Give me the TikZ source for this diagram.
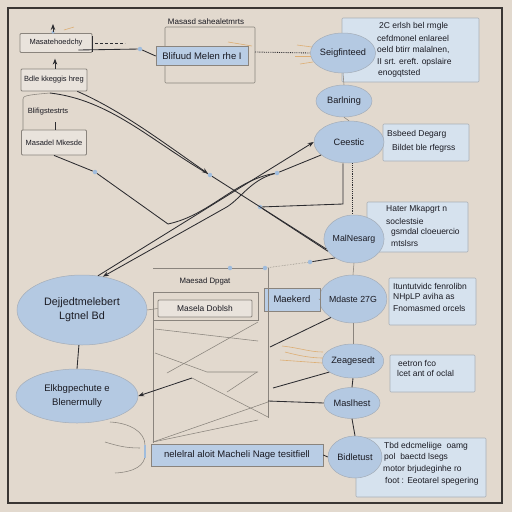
\documentclass[tikz,border=0pt]{standalone}
\usepackage{fontspec}
\setmainfont{Liberation Sans}
\usetikzlibrary{arrows.meta,shapes.geometric}
\definecolor{bg}{HTML}{E2D9CE}
\definecolor{ell}{HTML}{B4C9E2}
\definecolor{ellb}{HTML}{A4ADB8}
\definecolor{tfill}{HTML}{D6E2EE}
\definecolor{tline}{HTML}{A9AFB6}
\definecolor{gfill}{HTML}{E9E3DC}
\definecolor{gline}{HTML}{8A847D}
\definecolor{bfill}{HTML}{B9CDE5}
\definecolor{ln}{HTML}{2C2C30}
\definecolor{dotc}{HTML}{9FBCDD}
\definecolor{org}{HTML}{DDAE74}
\definecolor{txt}{HTML}{1A1A22}
\definecolor{frm}{HTML}{3A3634}
\tikzset{
  ellip/.style={ellipse, fill=ell, draw=ellb, line width=0.5pt, inner sep=0pt, text=txt, font=\fontsize{9.2}{10.5}\selectfont},
  gbox/.style={rectangle, fill=gfill, draw=gline, line width=0.8pt, rounded corners=1pt, inner sep=0pt, text=txt, font=\fontsize{7.5}{9}\selectfont},
  tbox/.style={rectangle, fill=tfill, draw=tline, line width=0.6pt, rounded corners=1pt, inner sep=0pt},
  bbox/.style={rectangle, fill=bfill, draw=gline, line width=0.7pt, inner sep=0pt, text=txt, font=\fontsize{9.5}{10}\selectfont},
  ttext/.style={anchor=west, inner sep=0pt, text=txt, font=\fontsize{8.5}{11.5}\selectfont, align=left},
  lbl/.style={inner sep=0pt, text=txt, font=\fontsize{7.8}{8}\selectfont},
  conn/.style={draw=ln, line width=0.85pt},
  fine/.style={draw=gline, line width=0.55pt},
  dotn/.style={circle, fill=dotc, inner sep=0pt, minimum size=4.5pt},
  arr/.style={-{Stealth[length=6pt,width=4.5pt]}},
  orng/.style={draw=org, line width=0.6pt}
}
\begin{document}
\begin{tikzpicture}[x=1pt,y=-1pt]
\useasboundingbox (0,0) rectangle (512,512);
\fill[bg] (0,0) rectangle (512,512);
\draw[frm, line width=1.2pt] (8,8) rectangle (502,503);

% ---------- right text boxes (behind ellipses) ----------
\node[tbox, minimum width=137pt, minimum height=64pt] (t1) at (410.5,50) {};
\node[tbox, minimum width=86pt, minimum height=37pt] (t3) at (426,142.5) {};
\node[tbox, minimum width=101pt, minimum height=50pt] (t4) at (417.5,227) {};
\node[tbox, minimum width=87pt, minimum height=47pt] (t5) at (432.5,301.5) {};
\node[tbox, minimum width=85pt, minimum height=37pt] (t6) at (432.5,373.5) {};
\node[tbox, minimum width=130pt, minimum height=59pt] (t8) at (421,467.5) {};

\node[ttext] (t1a) at (379,26) {2C erlsh bel rmgle};
\node[ttext] (t1b) at (377,38) {cefdmonel enlareel};
\node[ttext] (t1c) at (377,50) {oeld btirr malalnen,};
\node[ttext] (t1d) at (377,62) {II srt. ereft. opslaire};
\node[ttext] (t1e) at (378,73) {enogqtsted};

\node[ttext] (t3a) at (387,134) {Bsbeed Degarg};
\node[ttext] (t3b) at (392,148) {Bildet ble rfegrss};

\node[ttext] (t4a) at (386,209) {Hater Mkapgrt n};
\node[ttext] (t4b) at (386,221) {soclestsie};
\node[ttext] (t4c) at (391,232) {gsmdal cloeuercio};
\node[ttext] (t4d) at (391,243) {mtslsrs};

\node[ttext] (t5a) at (393,286) {Ituntutvidc fenrolibn};
\node[ttext] (t5b) at (393,297) {NHpLP aviha as};
\node[ttext] (t5c) at (393,308) {Fnomasmed orcels};

\node[ttext] (t6a) at (398,363) {eetron fco};
\node[ttext] (t6b) at (397,373) {lcet ant of oclal};

\node[ttext] (t8a) at (384,446) {Tbd edcmeliige\ \ oamg};
\node[ttext] (t8b) at (384,457) {pol\ \ baectd lsegs};
\node[ttext] (t8c) at (383,469) {motor brjudeginhe ro};
\node[ttext] (t8d) at (385,481) {foot : Eeotarel spegering};

% ---------- top left boxes ----------
\node[gbox, minimum width=72pt, minimum height=19pt] (b1) at (56,43) {Masatehoedchy};
\node[gbox, minimum width=66pt, minimum height=22pt] (b2) at (54,80) {Bdle kkeggis hreg};
\node[lbl, font=\fontsize{7.5}{9}\selectfont] (b3lbl) at (48,112) {Blifigstestrts};
\node[gbox, minimum width=65pt, minimum height=25pt] (b3) at (54,142.5) {Masadel Mkesde};
\draw[fine] (23,130) -- (23,99) .. controls (23,96) and (26,95) .. (50,93);

% ---------- top middle frame ----------
\node[lbl, font=\fontsize{8}{9}\selectfont] (flbl) at (206,22) {Masasd sahealetmrts};
\draw[fine, rounded corners=1pt] (165,27) rectangle (255,83);
\node[bbox, minimum width=92pt, minimum height=19pt] (bb) at (202,56) {Blifuud Melen rhe I};

% ---------- right ellipses ----------
\node[ellip, minimum width=64pt, minimum height=40pt] (e1) at (343,53) {Seigfinteed};
\node[ellip, minimum width=56pt, minimum height=32pt] (e2) at (344,101) {Barlning};
\node[ellip, minimum width=70pt, minimum height=42pt] (e3) at (349,142) {Ceestic};
\node[ellip, minimum width=54pt, minimum height=48pt, font=\fontsize{8.8}{10}\selectfont] (e4) at (354,239) {MalNesarg};
\node[ellip, minimum width=58pt, minimum height=48pt, font=\fontsize{8.8}{10}\selectfont] (e5) at (353,299) {Mdaste 27G};
\node[ellip, minimum width=60pt, minimum height=34pt] (e6) at (353,361) {Zeagesedt};
\node[ellip, minimum width=56pt, minimum height=31pt] (e7) at (352,403) {Maslhest};
\node[ellip, minimum width=54pt, minimum height=42pt] (e8) at (355,457) {Bidletust};

\node[bbox, minimum width=56pt, minimum height=23pt] (bm) at (292,299.5) {Maekerd};
\node[bbox, minimum width=172pt, minimum height=22pt] (bn) at (237,455) {nelelral aloit Macheli Nage tesitfiell};

% ---------- left ellipses ----------
\node[ellip, minimum width=130pt, minimum height=70pt, font=\fontsize{10.8}{14}\selectfont, align=center] (E1) at (82,310) {Dejjedtmelebert\\Lgtnel Bd};
\node[ellip, minimum width=122pt, minimum height=54pt, font=\fontsize{9.5}{13.5}\selectfont, align=center] (E2) at (77,396) {Elkbgpechute e\\Blenermully};

% ---------- middle frame ----------
\node[lbl] (mlbl) at (205,281) {Maesad Dpgat};
\draw[fine] (153,292) rectangle (258,320);
\node[gbox, minimum width=94pt, minimum height=17pt, font=\fontsize{8.4}{9}\selectfont] (bmd) at (205,308.5) {Masela Doblsh};
\draw[fine] (153,320) -- (153,443);
\draw[fine] (268,268) -- (268,418);
\draw[fine] (155,329) -- (258,341);
\draw[fine] (155,353) -- (207,372) -- (258,372);
\draw[fine] (167,373) -- (258,322);
\draw[fine] (227,392) -- (257,372);
\draw[fine] (153,442) -- (268,402);
\draw[fine] (153,442) -- (258,420);

% ---------- dots ----------
\node[dotn] (dA) at (140,49) {};
\node[dotn] (dB) at (210,175) {};
\node[dotn] (dC) at (95,172) {};
\node[dotn] (dD) at (277,173) {};
\node[dotn] (dE) at (260,207) {};
\node[dotn] (dF) at (310,262) {};
\node[dotn] (dG) at (265,268) {};
\node[dotn] (dH) at (230,268) {};
\node[dotn, minimum size=3.5pt] (dI) at (53,32) {};
\coordinate (jA) at (153,268);
\coordinate (jB) at (192,378);
\coordinate (jC) at (343,204);
\coordinate (jD) at (168,224);

% ---------- connectors top-left ----------
\draw[conn, arr] (b1.north -| dI) ++(0,-1) -- (53,24);
\draw[conn, arr] (b2.north -| 55,0) -- ++(0,-10);
\draw[conn] (b3.north -| 55,0) -- ++(0,-8);
\draw[orng] (64,30) -- (74,27);
\draw[conn] (b1.east) ++(0,-7) -- ++(0,16);
\draw[conn, densely dashed] (b1.east) ++(3,0) -- ++(30,0);
\draw[conn] (b1.east) ++(-14,7) -- (dA);
\draw[conn] (dA) -- (bb.west);
\draw[conn, densely dotted] (255,52) -- (e1.west);
\draw[orng] (228,42) -- (252,46);
\draw[orng] (297,45) -- (312,47);
\draw[orng] (295,56) -- (311,56);
\draw[orng] (300,64) -- (313,62);

% b2 -> dB
\draw[conn] (50,93) .. controls (110,100) and (150,140) .. (dB);
\draw[conn, arr] (b2.south east) ++(-10,0) .. controls (120,110) and (160,140) .. (dB);
\draw[conn] (dB) -- (e4.200);

% b3 -> dC -> curve -> dD -> e3
\draw[conn] (b3.south) -- (dC);
\draw[conn] (dC) -- (jD) .. controls (210,215) and (235,180) .. (dD);
\draw[conn] (dD) -- (e3.205);
\draw[conn, arr] (E1.65) -- (e3.west);
\draw[conn, arr] (dD) .. controls (250,180) and (240,200) .. (225,208) -- (E1.58);

% dE connections
\draw[conn] (dE) -- (jC) -- (jC |- e3.south);
\draw[conn] (dE) -- (e4.205);
\draw[conn, densely dotted] ([xshift=3pt]e3.south) -- ([xshift=-2pt]e4.north);

% e4 -> dF -> dG -> jA
\draw[conn] (e4.225) -- (dF);
\draw[fine, densely dotted] (dF) -- (dG);
\draw[fine] (dG) -- (dH) -- (jA);

% vertical chain
\draw[fine] (e2.south) -- (e3.north);
\draw[fine] (e1.south) -- (e2.north);
\draw[fine] (e4.south) -- (e5.north);
\draw[fine] (e5.south) -- (e6.north);
\draw[conn] (e6.south) -- (e7.north);
\draw[conn] (e7.south) -- (e8.north);
\draw[conn] (bn.east) -- (e8.west);
\draw[fine] (bm.east) -- (e5.west);

% lines toward e5 / e6 / e7
\draw[conn] (270,347) -- (e5.220);
\draw[orng] (282,346) .. controls (300,348) and (310,352) .. (323,352);
\draw[orng] (285,352) .. controls (300,356) and (312,358) .. (323,358);
\draw[orng] (280,360) -- (322,363);
\draw[conn] (273,388) -- (e6.205);
\draw[conn] (268,401) -- (e7.west);

% left ellipses
\draw[fine] (E1.east) -- (bmd.west);
\draw[conn] (E1.265) -- (E2.north);
\draw[conn, arr] (jB) -- (E2.east);
\draw[fine] (jB) -- (268,417);

% bottom-left decorative arcs
\draw[fine] (110,422) .. controls (130,423) and (145,432) .. (145,445);
\draw[fine] (105,442) .. controls (118,446) and (126,448) .. (140,448);
\draw[fine] (115,473) .. controls (135,472) and (145,465) .. (145,455);
\draw[draw=dotc, line width=1.4pt] (145,445) -- (145,458);
\end{tikzpicture}
\end{document}
